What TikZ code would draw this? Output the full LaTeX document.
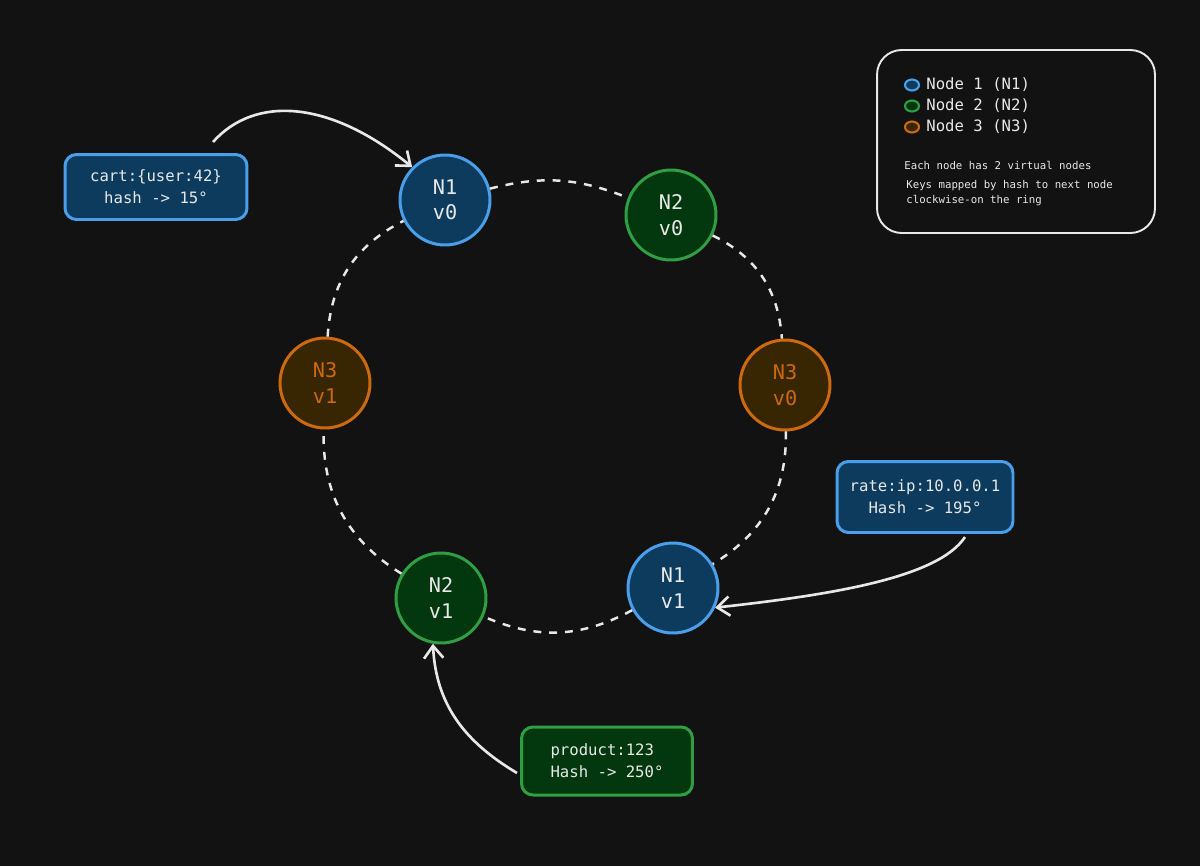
\documentclass[tikz,border=0pt]{standalone}
\usepackage{fontspec}
\setmonofont{DejaVu Sans Mono}
\usepackage{tikz}
\usetikzlibrary{arrows.meta,positioning,shapes.geometric}

\definecolor{bgdark}{HTML}{121212}
\definecolor{inkwhite}{HTML}{E8E8E8}
\definecolor{blueline}{HTML}{4A9EEA}
\definecolor{bluefill}{HTML}{0C3B5D}
\definecolor{greenline}{HTML}{2F9E44}
\definecolor{greenfill}{HTML}{03370E}
\definecolor{orangeline}{HTML}{CC6A0C}
\definecolor{orangefill}{HTML}{382602}

\begin{document}
\begin{tikzpicture}[x=0.02cm, y=-0.02cm, font=\ttfamily,
	vnode/.style = {circle, line width=1.7pt, minimum size=1.8cm, inner sep=0pt, align=center,
		font=\ttfamily\fontsize{11.5}{14.5}\selectfont, text=inkwhite},
	nodeone/.style = {draw=blueline, fill=bluefill},
	nodetwo/.style = {draw=greenline, fill=greenfill},
	nodethree/.style = {draw=orangeline, fill=orangefill, text=orangeline},
	keybox/.style = {draw, rounded corners=6.5pt, line width=1.7pt, align=center, inner sep=0pt,
		font=\ttfamily\fontsize{8.9}{12.5}\selectfont, text=inkwhite},
	legendbox/.style = {draw=inkwhite, fill=bgdark, line width=1.1pt, rounded corners=14pt,
		minimum width=5.56cm, minimum height=3.66cm},
	marker/.style = {ellipse, line width=1.2pt, minimum width=0.28cm, minimum height=0.22cm, inner sep=0pt},
	legendtext/.style = {inner sep=0pt, text=inkwhite, font=\ttfamily\fontsize{8.9}{10}\selectfont},
	notetext/.style = {inner sep=0pt, text=inkwhite, align=left, font=\ttfamily\fontsize{6.1}{8.5}\selectfont},
	link/.style = {draw=inkwhite, line width=1.5pt, -{Straight Barb[length=7pt,width=11pt]}},
	ring/.style = {draw=inkwhite, line width=1.4pt, dash pattern=on 4.5pt off 4.5pt}]
\useasboundingbox (0,0) rectangle (1200,866);
\fill[bgdark] (0,0) rectangle (1200,866);

% virtual nodes on the ring
\node[vnode, nodeone] (n1a) at (445,200) {N1\\v0};
\node[vnode, nodetwo] (n2a) at (671,215) {N2\\v0};
\node[vnode, nodethree] (n3a) at (785,385) {N3\\v0};
\node[vnode, nodeone] (n1b) at (673,588) {N1\\v1};
\node[vnode, nodetwo] (n2b) at (441,598) {N2\\v1};
\node[vnode, nodethree] (n3b) at (325,383) {N3\\v1};

\foreach \from/\to/\bend in {n1a/n2a/18, n2a/n3a/30, n3a/n1b/30, n1b/n2b/26, n2b/n3b/30, n3b/n1a/30}
	\draw[ring] (\from) to[bend left=\bend] (\to);

% keys
\node[keybox, draw=blueline, fill=bluefill, minimum width=3.64cm, minimum height=1.3cm] (cart) at (156,187)
	{cart:\{user:42\}\\hash -> 15°};
\node[keybox, draw=blueline, fill=bluefill, minimum width=3.52cm, minimum height=1.42cm] (rate) at (925,497)
	{rate:ip:10.0.0.1\\Hash -> 195°};
\node[keybox, draw=greenline, fill=greenfill, align=left, minimum width=3.42cm, minimum height=1.36cm] (product) at (607,761)
	{product:123\\Hash -> 250°};

\coordinate (cartstart) at (213,142);
\coordinate (ratestart) at (965,537);
\coordinate (prodstart) at (517,773);
\draw[link] (cartstart) .. controls (255,95) and (330,100) .. (n1a.135);
\draw[link] (ratestart) .. controls (938,578) and (830,595) .. (n1b.-25);
\draw[link] (prodstart) .. controls (465,742) and (436,705) .. (n2b.-100);

% legend
\node[legendbox] (legend) at (1016,141.5) {};
\node[marker, draw=blueline, fill=bluefill] (m1) at (912,85) {};
\node[marker, draw=greenline, fill=greenfill] (m2) at (912,106) {};
\node[marker, draw=orangeline, fill=orangefill] (m3) at (912,127) {};
\node[legendtext, right=0.12cm of m1] (l1) {Node 1 (N1)};
\node[legendtext, right=0.12cm of m2] (l2) {Node 2 (N2)};
\node[legendtext, right=0.12cm of m3] (l3) {Node 3 (N3)};
\node[notetext, anchor=west] (note1) at (904,165) {Each node has 2 virtual nodes};
\node[notetext, anchor=north west] (note2) at (906,180) {Keys mapped by hash to next node\\clockwise-on the ring};
\end{tikzpicture}
\end{document}
